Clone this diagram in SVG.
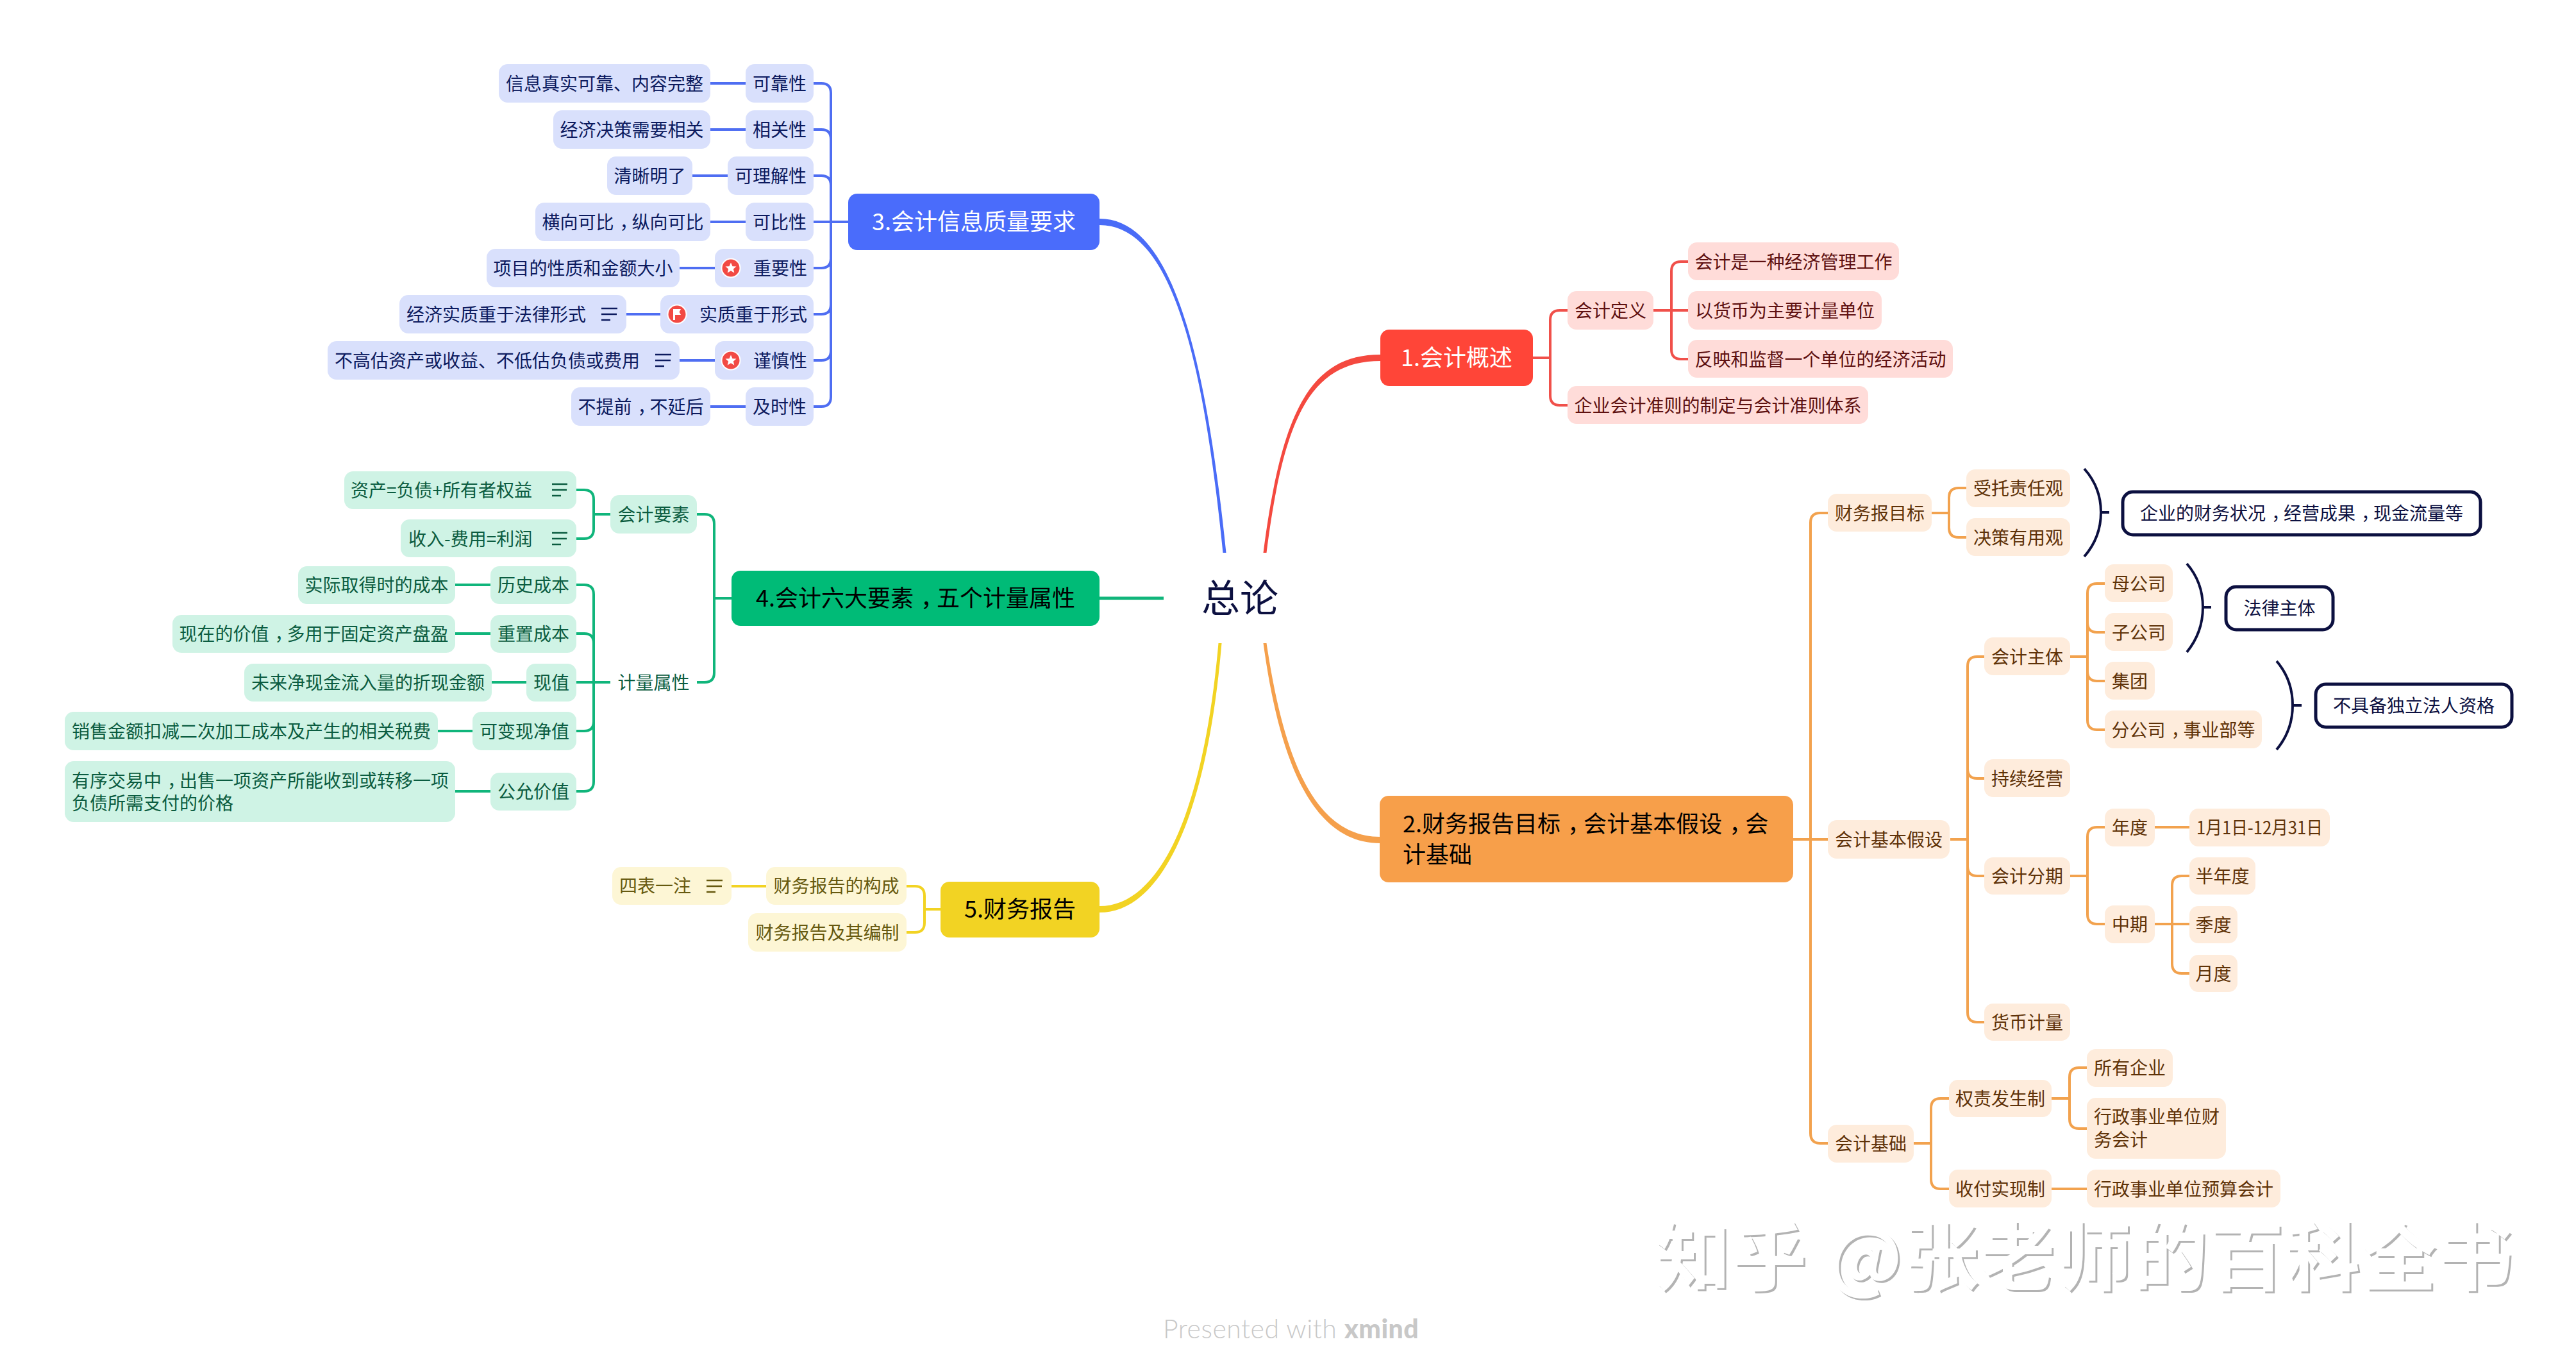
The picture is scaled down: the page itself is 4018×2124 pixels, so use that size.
<svg xmlns="http://www.w3.org/2000/svg" width="4018" height="2124" viewBox="0 0 4018 2124">
<style>
text{font-family:"Noto Sans CJK SC","Noto Sans",sans-serif;font-size:28px}
.c{text-anchor:middle}
.e{text-anchor:end}
.m{font-size:36px}
.k{fill:none;stroke-width:4;stroke-linecap:butt}
.nb rect{fill:#d9e0fc}.nb text{fill:#0c1a5e}.nb .n{stroke:#0c1a5e}
.nr rect{fill:#ffdcd9}.nr text{fill:#5e1010}
.no rect{fill:#feecdc}.no text{fill:#5e3208}
.ng rect{fill:#cff3e5}.ng text{fill:#0b5c40}.ng .n{stroke:#0b5c40}
.ny rect{fill:#fdf6d5}.ny text{fill:#66590f}.ny .n{stroke:#66590f}
.n{fill:none;stroke-width:2.6}
.bx rect{fill:#fff;stroke:#0c1040;stroke-width:5}.bx text{fill:#0c1040}
.br{fill:none;stroke:#0c1040;stroke-width:4}
</style>
<defs>
<filter id="wm" x="-2%" y="-5%" width="104%" height="110%"><feOffset in="SourceAlpha" dx="-3" dy="-3" result="o"/><feFlood flood-color="#fff"/><feComposite in2="o" operator="in" result="w"/><feMerge><feMergeNode in="SourceGraphic"/><feMergeNode in="w"/></feMerge></filter>
<g id="star"><circle r="15.5" fill="#fff"/><circle r="13.5" fill="#f24a44"/><polygon points="0,-8.5 2.5,-2.8 8.5,-2.4 3.9,1.5 5.3,7.4 0,4.2 -5.3,7.4 -3.9,1.5 -8.5,-2.4 -2.5,-2.8" fill="#fff"/></g>
<g id="flag"><circle r="15.5" fill="#fff"/><circle r="13.5" fill="#f24a44"/><path d="M-6-8h12l-2.5 4.5L6 1h-9v8h-3z" fill="#fff"/></g>
</defs>
<g id="connectors">
<g fill="#4a6cf7"><path d="M1715 341C1830 341 1881 560 1912.5 862H1907.5C1877 560 1828 351 1715 351Z"/></g>
<g fill="#f4493f"><path d="M2153 553C2040 553 1998 650 1970.5 862H1975.5C2002 652 2044 563 2153 563Z"/></g>
<g fill="#f5a04c"><path d="M2153 1305C2052 1305 2003 1188 1975.5 1003H1970.5C1996 1190 2048 1315 2153 1315Z"/></g>
<g fill="#f2d323"><path d="M1715 1413C1808 1413 1877 1270 1900.5 1003H1905.5C1883 1272 1812 1423 1715 1423Z"/></g>
<path d="M1714 930.5H1815V935.5H1714Z" fill="#10b57b"/>
<path class="k" stroke="#4f6ef2" d="M1296 145V619M1269 130H1281Q1296 130 1296 145M1269 202H1281Q1296 202 1296 217M1269 274H1281Q1296 274 1296 289M1269 346H1323M1269 418H1281Q1296 418 1296 403M1269 490H1281Q1296 490 1296 475M1269 562H1281Q1296 562 1296 547M1269 634H1281Q1296 634 1296 619M1108 130H1163M1108 202H1163M1080 274H1135M1108 346H1163M1060 418H1115M977 490H1030M1060 562H1115M1108 634H1163"/>
<path class="k" stroke="#10b57b" d="M926 779V825M899 764H911Q926 764 926 779M899 840H911Q926 840 926 825M926 802H952M926 927V1219M899 912H911Q926 912 926 927M899 988H911Q926 988 926 1003M899 1064H952M899 1140H911Q926 1140 926 1125M899 1234H911Q926 1234 926 1219M710 912H765M710 988H765M767 1064H821M683 1140H737M710 1234H765M1114 817V1049M1087 802H1099Q1114 802 1114 817M1087 1064H1099Q1114 1064 1114 1049M1114 933H1141"/>
<path class="k" stroke="#f2d323" d="M1442 1397V1439M1414 1382H1427Q1442 1382 1442 1397M1414 1454H1427Q1442 1454 1442 1439M1442 1418H1467M1141 1382H1195"/>
<path class="k" stroke="#f0504a" d="M2418 499V617M2445 484H2433Q2418 484 2418 499M2445 632H2433Q2418 632 2418 617M2391 558H2418M2607 423V545M2633 408H2622Q2607 408 2607 423M2578 484H2633M2633 560H2622Q2607 560 2607 545"/>
<path class="k" stroke="#f2a24e" d="M2824 815V1767M2851 800H2839Q2824 800 2824 815M2797 1309H2851M2851 1783H2839Q2824 1783 2824 1767M3040 776V823M3067 761H3055Q3040 761 3040 776M3067 838H3055Q3040 838 3040 823M3013 800H3040M3069 1039V1579M3095 1024H3084Q3069 1024 3069 1039M3095 1214H3084Q3069 1214 3069 1199M3042 1309H3069M3095 1366H3084Q3069 1366 3069 1351M3095 1594H3084Q3069 1594 3069 1579M3256 925V1123M3283 910H3271Q3256 910 3256 925M3283 986H3271Q3256 986 3256 971M3229 1024H3256M3283 1062H3271Q3256 1062 3256 1047M3283 1138H3271Q3256 1138 3256 1123M3256 1305V1426M3283 1290H3271Q3256 1290 3256 1305M3283 1441H3271Q3256 1441 3256 1426M3229 1366H3256M3361 1290H3415M3388 1381V1503M3415 1366H3403Q3388 1366 3388 1381M3361 1441H3415M3415 1518H3403Q3388 1518 3388 1503M3012 1728V1839M3040 1713H3027Q3012 1713 3012 1728M3040 1854H3027Q3012 1854 3012 1839M2985 1783H3012M3228 1680V1745M3255 1665H3243Q3228 1665 3228 1680M3255 1760H3243Q3228 1760 3228 1745M3200 1713H3228M3200 1854H3255"/>
<path class="br" d="M3251 731Q3277 760 3277 799Q3277 838 3251 868M3277 799H3290"/>
<path class="br" d="M3411 879Q3436 908 3436 947Q3436 986 3411 1017M3436 947H3449"/>
<path class="br" d="M3551 1031Q3576 1060 3576 1100Q3576 1139 3551 1169M3576 1100H3590"/>
</g>
<text id="root" x="1934" y="955" class="c" style="font-size:60px" fill="#0c1040">总论</text>

<g id="n3" class="nb"><rect x="1323" y="302" width="392" height="88" rx="14" style="fill:#4a6cfb"/><text x="1519" y="359" class="c m" style="fill:#fff">3.会计信息质量要求</text></g>
<g id="n3-1" class="nb"><rect x="1163" y="100" width="106" height="60" rx="14"/><text x="1216" y="140.5" class="c">可靠性</text></g>
<g id="n3-1a" class="nb"><rect x="778" y="100" width="330" height="60" rx="14"/><text x="943" y="140.5" class="c">信息真实可靠、内容完整</text></g>
<g id="n3-2" class="nb"><rect x="1163" y="172" width="106" height="60" rx="14"/><text x="1216" y="212.5" class="c">相关性</text></g>
<g id="n3-2a" class="nb"><rect x="863" y="172" width="245" height="60" rx="14"/><text x="985.5" y="212.5" class="c">经济决策需要相关</text></g>
<g id="n3-3" class="nb"><rect x="1135" y="244" width="134" height="60" rx="14"/><text x="1202" y="284.5" class="c">可理解性</text></g>
<g id="n3-3a" class="nb"><rect x="947" y="244" width="133" height="60" rx="14"/><text x="1013.5" y="284.5" class="c">清晰明了</text></g>
<g id="n3-4" class="nb"><rect x="1163" y="316" width="106" height="60" rx="14"/><text x="1216" y="356.5" class="c">可比性</text></g>
<g id="n3-4a" class="nb"><rect x="835" y="316" width="273" height="60" rx="14"/><text x="971.5" y="356.5" class="c" dx="0 0 0 0 9 -9">横向可比，纵向可比</text></g>
<g id="n3-5" class="nb"><rect x="1115" y="388" width="154" height="60" rx="14"/><use href="#star" x="1140" y="418"/><text x="1259" y="428.5" class="e">重要性</text></g>
<g id="n3-5a" class="nb"><rect x="759" y="388" width="301" height="60" rx="14"/><text x="909.5" y="428.5" class="c">项目的性质和金额大小</text></g>
<g id="n3-6" class="nb"><rect x="1030" y="460" width="239" height="60" rx="14"/><use href="#flag" x="1056" y="490"/><text x="1259" y="500.5" class="e">实质重于形式</text></g>
<g id="n3-6a" class="nb"><rect x="623" y="460" width="354" height="60" rx="14"/><text x="634" y="500.5">经济实质重于法律形式</text><path class="n" d="M938 481H963M938 490H962M938 499H952"/></g>
<g id="n3-7" class="nb"><rect x="1115" y="532" width="154" height="60" rx="14"/><use href="#star" x="1140" y="562"/><text x="1259" y="572.5" class="e">谨慎性</text></g>
<g id="n3-7a" class="nb"><rect x="511" y="532" width="549" height="60" rx="14"/><text x="522" y="572.5">不高估资产或收益、不低估负债或费用</text><path class="n" d="M1022 553H1047M1022 562H1046M1022 571H1036"/></g>
<g id="n3-8" class="nb"><rect x="1163" y="604" width="106" height="60" rx="14"/><text x="1216" y="644.5" class="c">及时性</text></g>
<g id="n3-8a" class="nb"><rect x="891" y="604" width="217" height="60" rx="14"/><text x="999.5" y="644.5" class="c" dx="0 0 0 9 -9">不提前，不延后</text></g>

<g id="n4" class="ng"><rect x="1141" y="890" width="574" height="86" rx="14" style="fill:#00bb77"/><text x="1428" y="946" class="c m" style="fill:#000" dx="0 0 0 0 0 0 0 0 11 -11">4.会计六大要素，五个计量属性</text></g>
<g id="n4-1" class="ng"><rect x="952" y="772" width="135" height="60" rx="14"/><text x="1019.5" y="812.5" class="c">会计要素</text></g>
<g id="n4-1a" class="ng"><rect x="537" y="735" width="362" height="59" rx="14"/><text x="547" y="774.5">资产=负债+所有者权益</text><path class="n" d="M861 755H885M861 764H884M861 773H875"/></g>
<g id="n4-1b" class="ng"><rect x="625" y="810" width="274" height="59" rx="14"/><text x="637" y="850.5">收入-费用=利润</text><path class="n" d="M861 831H885M861 840H884M861 849H875"/></g>
<g id="n4-2" class="ng"><rect x="952" y="1035" width="135" height="59" rx="14" style="fill:#fff"/><text x="1019.5" y="1074.5" class="c">计量属性</text></g>
<g id="n4-2a" class="ng"><rect x="765" y="883" width="134" height="59" rx="14"/><text x="832" y="922.5" class="c">历史成本</text></g>
<g id="n4-2a1" class="ng"><rect x="465" y="883" width="245" height="59" rx="14"/><text x="587.5" y="922.5" class="c">实际取得时的成本</text></g>
<g id="n4-2b" class="ng"><rect x="765" y="959" width="134" height="59" rx="14"/><text x="832" y="999" class="c">重置成本</text></g>
<g id="n4-2b1" class="ng"><rect x="269" y="959" width="441" height="59" rx="14"/><text x="489.5" y="999" class="c" dx="0 0 0 0 0 9 -9">现在的价值，多用于固定资产盘盈</text></g>
<g id="n4-2c" class="ng"><rect x="821" y="1035" width="78" height="59" rx="14"/><text x="860" y="1074.5" class="c">现值</text></g>
<g id="n4-2c1" class="ng"><rect x="381" y="1035" width="386" height="59" rx="14"/><text x="574" y="1074.5" class="c">未来净现金流入量的折现金额</text></g>
<g id="n4-2d" class="ng"><rect x="737" y="1110" width="162" height="60" rx="14"/><text x="818" y="1150.5" class="c">可变现净值</text></g>
<g id="n4-2d1" class="ng"><rect x="101" y="1110" width="582" height="60" rx="14"/><text x="392" y="1150.5" class="c">销售金额扣减二次加工成本及产生的相关税费</text></g>
<g id="n4-2e" class="ng"><rect x="765" y="1205" width="134" height="59" rx="14"/><text x="832" y="1244.5" class="c">公允价值</text></g>
<g id="n4-2e1" class="ng"><rect x="101" y="1187" width="609" height="95" rx="14"/><text x="112" y="1228" dx="0 0 0 0 0 9 -9">有序交易中，出售一项资产所能收到或转移一项</text><text x="112" y="1263">负债所需支付的价格</text></g>

<g id="n5" class="ny"><rect x="1467" y="1375" width="248" height="87" rx="14" style="fill:#f2d323"/><text x="1591" y="1431" class="c m" style="fill:#000">5.财务报告</text></g>
<g id="n5-1" class="ny"><rect x="1195" y="1352" width="219" height="59" rx="14"/><text x="1304.5" y="1392" class="c">财务报告的构成</text></g>
<g id="n5-1a" class="ny"><rect x="955" y="1352" width="186" height="59" rx="14"/><text x="966" y="1392">四表一注</text><path class="n" d="M1102 1373H1127M1102 1382H1126M1102 1391H1116"/></g>
<g id="n5-2" class="ny"><rect x="1167" y="1424" width="247" height="60" rx="14"/><text x="1290.5" y="1464.5" class="c">财务报告及其编制</text></g>

<g id="n1" class="nr"><rect x="2153" y="514" width="238" height="88" rx="14" style="fill:#ff4538"/><text x="2272" y="571" class="c m" style="fill:#fff">1.会计概述</text></g>
<g id="n1-1" class="nr"><rect x="2445" y="454" width="134" height="60" rx="14"/><text x="2512" y="494.5" class="c">会计定义</text></g>
<g id="n1-1a" class="nr"><rect x="2633" y="378" width="329" height="59" rx="14"/><text x="2797.5" y="418.5" class="c">会计是一种经济管理工作</text></g>
<g id="n1-1b" class="nr"><rect x="2633" y="454" width="302" height="60" rx="14"/><text x="2784" y="494.5" class="c">以货币为主要计量单位</text></g>
<g id="n1-1c" class="nr"><rect x="2633" y="530" width="413" height="59" rx="14"/><text x="2839.5" y="570.5" class="c">反映和监督一个单位的经济活动</text></g>
<g id="n1-2" class="nr"><rect x="2445" y="602" width="469" height="59" rx="14"/><text x="2679.5" y="642.5" class="c">企业会计准则的制定与会计准则体系</text></g>

<g id="n2" class="no"><rect x="2152" y="1241" width="645" height="135" rx="14" style="fill:#f79f4a"/><text x="2188" y="1298" class="m" style="fill:#000" dx="0 0 0 0 0 0 0 0 11 -11 0 0 0 0 0 11 -11">2.财务报告目标，会计基本假设，会</text><text x="2188" y="1346" class="m" style="fill:#000">计基础</text></g>
<g id="n2-1" class="no"><rect x="2851" y="770" width="162" height="59" rx="14"/><text x="2932" y="810.5" class="c">财务报目标</text></g>
<g id="n2-1a" class="no"><rect x="3067" y="732" width="162" height="59" rx="14"/><text x="3148" y="772" class="c">受托责任观</text></g>
<g id="n2-1b" class="no"><rect x="3067" y="808" width="162" height="59" rx="14"/><text x="3148" y="848.5" class="c">决策有用观</text></g>
<g id="b1" class="bx"><rect x="3311" y="767" width="558" height="67" rx="16"/><text x="3590" y="811" class="c" dx="0 0 0 0 0 0 0 9 -9 0 0 0 9 -9">企业的财务状况，经营成果，现金流量等</text></g>
<g id="n2-2" class="no"><rect x="2851" y="1279" width="190" height="60" rx="14"/><text x="2946" y="1319.5" class="c">会计基本假设</text></g>
<g id="n2-2a" class="no"><rect x="3095" y="994" width="134" height="59" rx="14"/><text x="3162" y="1034.5" class="c">会计主体</text></g>
<g id="n2-2a1" class="no"><rect x="3283" y="880" width="106" height="59" rx="14"/><text x="3336" y="920.5" class="c">母公司</text></g>
<g id="n2-2a2" class="no"><rect x="3283" y="956" width="106" height="59" rx="14"/><text x="3336" y="996.5" class="c">子公司</text></g>
<g id="n2-2a3" class="no"><rect x="3283" y="1032" width="78" height="59" rx="14"/><text x="3322" y="1072.5" class="c">集团</text></g>
<g id="n2-2a4" class="no"><rect x="3283" y="1108" width="245" height="59" rx="14"/><text x="3405.5" y="1148.5" class="c" dx="0 0 0 9 -9">分公司，事业部等</text></g>
<g id="b2" class="bx"><rect x="3472" y="915" width="167" height="67" rx="16"/><text x="3555.5" y="959" class="c">法律主体</text></g>
<g id="b3" class="bx"><rect x="3612" y="1067" width="306" height="67" rx="16"/><text x="3765" y="1111" class="c">不具备独立法人资格</text></g>
<g id="n2-2b" class="no"><rect x="3095" y="1184" width="134" height="59" rx="14"/><text x="3162" y="1224.5" class="c">持续经营</text></g>
<g id="n2-2c" class="no"><rect x="3095" y="1337" width="134" height="58" rx="14"/><text x="3162" y="1376.5" class="c">会计分期</text></g>
<g id="n2-2c1" class="no"><rect x="3283" y="1261" width="78" height="59" rx="14"/><text x="3322" y="1300.5" class="c">年度</text></g>
<g id="n2-2c1a" class="no"><rect x="3415" y="1261" width="219" height="59" rx="14"/><text x="3524.5" y="1300.5" class="c" textLength="197" lengthAdjust="spacingAndGlyphs">1月1日-12月31日</text></g>
<g id="n2-2c2" class="no"><rect x="3283" y="1412" width="78" height="59" rx="14"/><text x="3322" y="1451.5" class="c">中期</text></g>
<g id="n2-2c2a" class="no"><rect x="3415" y="1337" width="103" height="58" rx="14"/><text x="3466.5" y="1376.5" class="c">半年度</text></g>
<g id="n2-2c2b" class="no"><rect x="3415" y="1413" width="75" height="58" rx="14"/><text x="3452.5" y="1452.5" class="c">季度</text></g>
<g id="n2-2c2c" class="no"><rect x="3415" y="1489" width="75" height="58" rx="14"/><text x="3452.5" y="1528.5" class="c">月度</text></g>
<g id="n2-2d" class="no"><rect x="3095" y="1565" width="134" height="58" rx="14"/><text x="3162" y="1604.5" class="c">货币计量</text></g>
<g id="n2-3" class="no"><rect x="2851" y="1754" width="134" height="59" rx="14"/><text x="2918" y="1793.5" class="c">会计基础</text></g>
<g id="n2-3a" class="no"><rect x="3040" y="1684" width="160" height="58" rx="14"/><text x="3120" y="1723.5" class="c">权责发生制</text></g>
<g id="n2-3a1" class="no"><rect x="3255" y="1636" width="134" height="59" rx="14"/><text x="3322" y="1675.5" class="c">所有企业</text></g>
<g id="n2-3a2" class="no"><rect x="3255" y="1712" width="217" height="95" rx="14"/><text x="3266" y="1752">行政事业单位财</text><text x="3266" y="1788">务会计</text></g>
<g id="n2-3b" class="no"><rect x="3040" y="1824" width="160" height="59" rx="14"/><text x="3120" y="1864.5" class="c">收付实现制</text></g>
<g id="n2-3b1" class="no"><rect x="3255" y="1824" width="302" height="59" rx="14"/><text x="3406" y="1864.5" class="c">行政事业单位预算会计</text></g>

<text id="watermark" x="2586" y="2006" filter="url(#wm)" style="font-size:116px;font-weight:700;letter-spacing:3px" fill="#b3b3b3">知乎 @张老师的百科全书</text>
<text id="credit" x="1814" y="2087" style="font-family:Lato,sans-serif;font-size:41px;font-weight:300;letter-spacing:.5px" fill="#c8c8c8">Presented with <tspan style="font-weight:900">xmind</tspan></text>
</svg>
